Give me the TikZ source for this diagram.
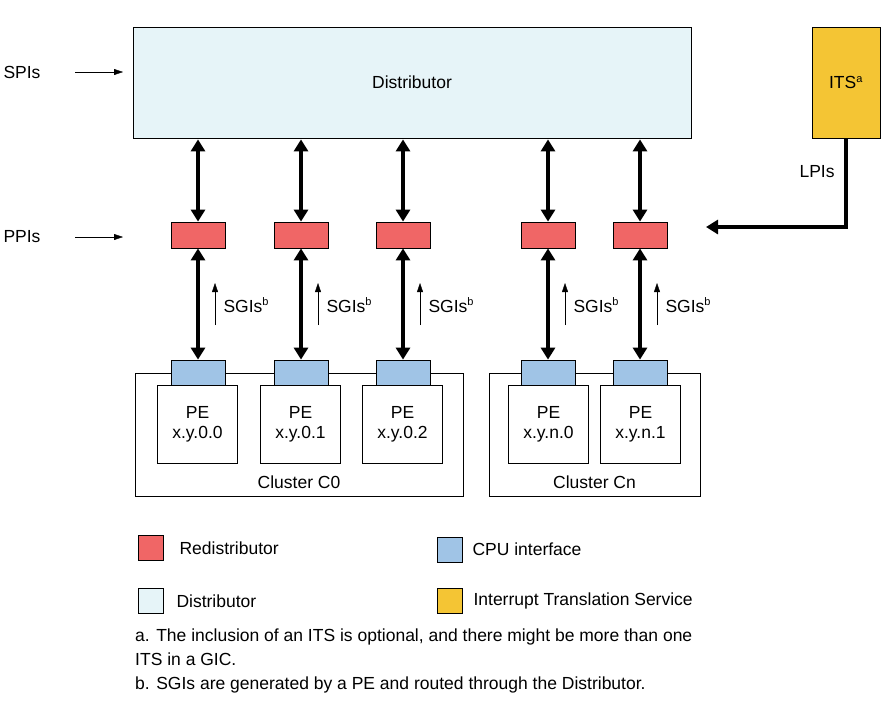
\documentclass[tikz,border=0pt]{standalone}
\usepackage{fontspec}
\setmainfont{Liberation Sans}
\usetikzlibrary{arrows.meta}
\definecolor{distc}{HTML}{E6F4F8}
\definecolor{itsc}{HTML}{F4C534}
\definecolor{redc}{HTML}{F06666}
\definecolor{cpuc}{HTML}{A0C4E6}
\newcommand{\supnote}[1]{\textsuperscript{\fontsize{11}{11}\selectfont #1}}
\tikzset{
  box/.style={draw, thick, inner sep=0pt},
  redist/.style={box, fill=redc, minimum width=54pt, minimum height=26pt},
  cpuif/.style={box, fill=cpuc, minimum width=54pt, minimum height=25pt},
  pe/.style={draw, fill=white, minimum width=80pt, minimum height=78pt, align=center, inner sep=0pt},
  bus/.style={line width=3.5pt, {Triangle[length=12pt,width=14pt]}-{Triangle[length=12pt,width=14pt]}},
  thin/.style={-{Triangle[length=9pt,width=6pt]}},
  leg/.style={box, minimum size=25pt}
}
\begin{document}
\begin{tikzpicture}[x=1pt, y=-1pt, font=\fontsize{17.5}{20}\selectfont]
            \useasboundingbox (0,0) rectangle (893,704);

            % Distributor and ITS
            \node[box, fill=distc, minimum width=558pt, minimum height=111pt] (dist) at (412,82.5) {Distributor};
            \node[box, fill=itsc, minimum width=68pt, minimum height=111pt] (its) at (846,82.5) {ITS\supnote{a}};

            % Inputs
            \node[anchor=west] (spi) at (0,72) {SPIs};
            \node[anchor=west] (ppi) at (0,237) {PPIs};
            \coordinate (spie) at (123,72);
            \coordinate (ppie) at (123,237);
            \draw[thin] (75,72) -- (spie);
            \draw[thin] (75,237) -- (ppie);

            % Clusters (behind PE)
            \node[draw, minimum width=328pt, minimum height=123pt, inner sep=0pt] (c0) at (299,434.5) {};
            \node[draw, minimum width=211pt, minimum height=123pt, inner sep=0pt] (cn) at (594.5,434.5) {};
            \node (c0l) at (299,482) {Cluster C0};
            \node (cnl) at (594.5,482) {Cluster Cn};

            % Redistributors, CPU interfaces and PEs
            \foreach \i/\x/\pex/\lab in {1/198/197.5/x.y.0.0, 2/301/300.5/x.y.0.1, 3/403/402.5/x.y.0.2, 4/548/548.5/x.y.n.0, 5/640/640.5/x.y.n.1} {
                \node[redist] (rd\i) at (\x,235) {};
                \node[pe] (pe\i) at (\pex,424) {PE\\\lab};
                \node[cpuif] (ci\i) at (\x,372.5) {};
                \draw[bus] ([yshift=-1pt]dist.south -| rd\i) -- (rd\i.north);
                \draw[bus] (rd\i.south) -- (ci\i.north);
                \draw[thin] (\x+17,325) -- (\x+17,283);
                \node[anchor=west] (sgi\i) at (\x+22,305) {SGIs\supnote{b}};
            }

            % LPIs
            \coordinate (lpie) at (706,227);
            \draw[line width=3.5pt, -{Triangle[length=12pt,width=14pt]}] (its.south) |- (lpie);
            \node[anchor=west] (lpi) at (796,172) {LPIs};

            % Legend
            \node[leg, fill=redc] (l1) at (150.5,547.5) {};
            \node[anchor=west] at (176,548) {Redistributor};
            \node[leg, fill=cpuc] (l2) at (450,549.5) {};
            \node[anchor=west] at (469,549.5) {CPU interface};
            \node[leg, fill=distc] (l3) at (150.5,600.5) {};
            \node[anchor=west] at (173,601) {Distributor};
            \node[leg, fill=itsc] (l4) at (450,600.5) {};
            \node[anchor=west] at (470,601) {Interrupt Translation Service};

            % Footnotes
            \node[anchor=north west, align=left, inner sep=0pt, font=\fontsize{17.5}{24}\selectfont] (notes) at (135,629) {a. The inclusion of an ITS is optional, and there might be more than one\\ITS in a GIC.\\b. SGIs are generated by a PE and routed through the Distributor.};
\end{tikzpicture}
\end{document}
